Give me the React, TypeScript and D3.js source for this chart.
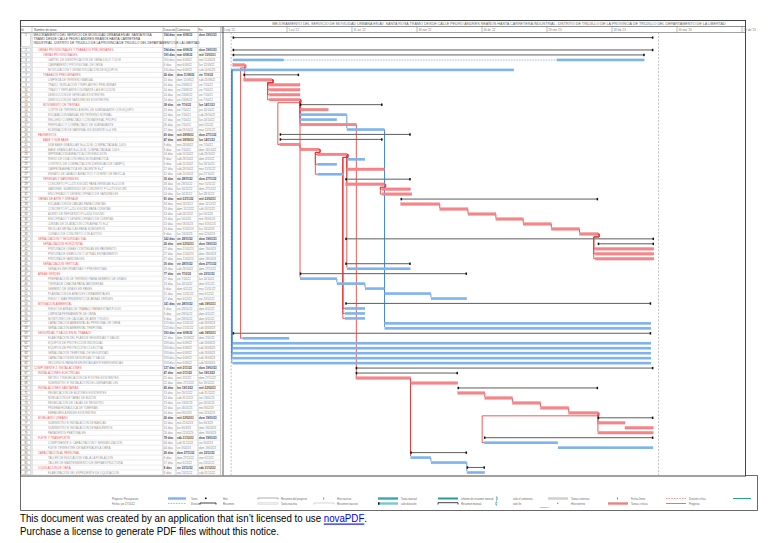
import * as d3 from 'd3'
import { useEffect, useRef } from 'react'

const projectTitle = 'MEJORAMIENTO DEL SERVICIO DE MOVILIDAD URBANA EN AV. SANTA ROSA TRAMO DESDE CALLE PEDRO ANDRES REAÑOS HASTA CARRETERA INDUSTRIAL, DISTRITO DE TRUJILLO DE LA PROVINCIA DE TRUJILLO DEL DEPARTAMENTO DE LA LIBERTAD'
const projectStart = new Date(2022, 8, 6)
const scaleOrigin = new Date(2022, 8, 1)
const tickCount = 9
const tickStep = 30
const markerDays = [-0.8, 196.5]
const columnHeaders = ['Id', 'Nombre de tarea', 'Duración', 'Comienzo', 'Fin']

const taskNames = [
  projectTitle,
  'OBRAS PROVISIONALES Y TRABAJOS PRELIMINARES',
  'OBRAS PROVISIONALES',
  'CARTEL DE IDENTIFICACION DE OBRA 3.60 X 7.20 M',
  'CAMPAMENTO PROVISIONAL DE OBRA',
  'MOVILIZACION Y DESMOVILIZACION DE EQUIPOS',
  'TRABAJOS PRELIMINARES',
  'LIMPIEZA DE TERRENO MANUAL',
  'TRAZO, NIVELACION Y REPLANTEO PRELIMINAR',
  'TRAZO Y REPLANTEO DURANTE LA EJECUCION',
  'DEMOLICION DE VEREDAS EXISTENTES',
  'DEMOLICION DE SARDINELES EXISTENTES',
  'MOVIMIENTO DE TIERRAS',
  'CORTE DE TERRENO A NIVEL DE SUBRASANTE CON EQUIPO',
  'EXCAVACION MANUAL EN TERRENO NORMAL',
  'RELLENO COMPACTADO CON MATERIAL PROPIO',
  'PERFILADO Y COMPACTADO DE SUBRASANTE',
  'ELIMINACION DE MATERIAL EXCEDENTE D=5 KM',
  'PAVIMENTOS',
  'BASE Y SUB BASE',
  'SUB BASE GRANULAR E=0.20 M, COMPACTADA AL 100%',
  'BASE GRANULAR E=0.20 M, COMPACTADA AL 100%',
  'IMPRIMACION ASFALTICA CON EMULSION',
  'RIEGO DE LIGA CON EMULSION ASFALTICA',
  'CONTROL DE COMPACTACION (DENSIDAD DE CAMPO)',
  'CARPETA ASFALTICA EN CALIENTE E=2"',
  'ENSAYO DE LAVADO ASFALTICO Y DISEÑO DE MEZCLA',
  'VEREDAS Y SARDINELES',
  'CONCRETO F\'C=175 KG/CM2 PARA VEREDAS E=0.10 M',
  'SARDINEL SUMERGIDO DE CONCRETO F\'C=175 KG/CM2',
  'ENCOFRADO Y DESENCOFRADO DE SARDINELES',
  'OBRAS DE ARTE Y DRENAJE',
  'EXCAVACION DE ZANJAS PARA CUNETAS',
  'CONCRETO F\'C=210 KG/CM2 PARA CUNETAS',
  'ACERO DE REFUERZO FY=4200 KG/CM2',
  'ENCOFRADO Y DESENCOFRADO DE CUNETAS',
  'JUNTAS DE DILATACION CON ASFALTO E=1"',
  'REJILLAS METALICAS PARA SUMIDEROS',
  'CURADO DE CONCRETO CON ADITIVO',
  'SEÑALIZACION Y SEGURIDAD VIAL',
  'SEÑALIZACION HORIZONTAL',
  'PINTURA DE LINEAS CONTINUAS EN PAVIMENTO',
  'PINTURA DE SIMBOLOS Y LETRAS EN PAVIMENTO',
  'PINTURA DE SARDINELES',
  'SEÑALIZACION VERTICAL',
  'SEÑALES INFORMATIVAS Y PREVENTIVAS',
  'AREAS VERDES',
  'PREPARACION DE TERRENO PARA SEMBRIO DE GRASS',
  'TIERRA DE CHACRA PARA JARDINERAS',
  'SEMBRIO DE GRASS EN PANES',
  'PLANTACION DE ARBOLES ORNAMENTALES',
  'RIEGO Y MANTENIMIENTO DE AREAS VERDES',
  'MITIGACION AMBIENTAL',
  'RIEGO DE AREAS DE TRABAJO PARA EVITAR POLVO',
  'LIMPIEZA PERMANENTE DE OBRA',
  'MONITOREO DE CALIDAD DE AIRE Y RUIDO',
  'CAPACITACION AMBIENTAL AL PERSONAL DE OBRA',
  'SEÑALIZACION AMBIENTAL TEMPORAL',
  'SEGURIDAD Y SALUD EN EL TRABAJO',
  'ELABORACION DEL PLAN DE SEGURIDAD Y SALUD',
  'EQUIPOS DE PROTECCION INDIVIDUAL',
  'EQUIPOS DE PROTECCION COLECTIVA',
  'SEÑALIZACION TEMPORAL DE SEGURIDAD',
  'CAPACITACION EN SEGURIDAD Y SALUD',
  'RECURSOS PARA RESPUESTAS ANTE EMERGENCIAS',
  'COMPONENTE 2: INSTALACIONES',
  'INSTALACIONES ELECTRICAS',
  'RETIRO Y REUBICACION DE POSTES EXISTENTES',
  'SUMINISTRO E INSTALACION DE LUMINARIAS LED',
  'INSTALACIONES SANITARIAS',
  'REUBICACION DE BUZONES EXISTENTES',
  'NIVELACION DE TAPAS DE BUZON',
  'REUBICACION DE CAJAS DE REGISTRO',
  'PRUEBA HIDRAULICA DE TUBERIAS',
  'EMPALMES A REDES EXISTENTES',
  'MOBILIARIO URBANO',
  'SUMINISTRO E INSTALACION DE BANCAS',
  'SUMINISTRO E INSTALACION DE BASUREROS',
  'PARADEROS PEATONALES',
  'FLETE Y TRANSPORTE',
  'COMPONENTE 3: CAPACITACION Y SENSIBILIZACION',
  'FLETE TERRESTRE DE MATERIALES A OBRA',
  'CAPACITACION AL PERSONAL',
  'TALLER DE EDUCACION VIAL A LA POBLACION',
  'TALLER DE MANTENIMIENTO DE INFRAESTRUCTURA',
  'LIQUIDACION DE OBRA',
  'ELABORACION DEL EXPEDIENTE DE LIQUIDACION'
]

const taskLevels = [
  0, 1, 2, 3, 3, 3, 2, 3, 3, 3, 3, 3, 2, 3, 3, 3, 3, 3, 1, 2, 3, 3, 3, 3, 3, 3, 3, 2, 3, 3, 3,
  1, 3, 3, 3, 3, 3, 3, 3, 1, 2, 3, 3, 3, 2, 3, 1, 3, 3, 3, 3, 3, 1, 3, 3, 3, 3, 3, 1, 3, 3, 3,
  3, 3, 3, 0, 1, 3, 3, 1, 3, 3, 3, 3, 3, 1, 3, 3, 3, 1, 3, 3, 1, 3, 3, 1, 3
]

// P proyecto, S resumen, C crítica, N normal
const taskKinds = [
  'P', 'S', 'S', 'N', 'C', 'N', 'S', 'C', 'C', 'C', 'C', 'C', 'S', 'C', 'N', 'N', 'C', 'N', 'S', 'S', 'C', 'C', 'C', 'N', 'N', 'C', 'N', 'S', 'C', 'C', 'C',
  'S', 'C', 'C', 'C', 'C', 'C', 'C', 'C', 'S', 'S', 'C', 'C', 'C', 'S', 'N', 'S', 'N', 'N', 'N', 'N', 'N', 'S', 'N', 'N', 'N', 'N', 'N', 'S', 'N', 'N', 'N',
  'N', 'N', 'N', 'S', 'S', 'C', 'C', 'S', 'C', 'C', 'C', 'C', 'C', 'S', 'C', 'C', 'C', 'S', 'N', 'N', 'S', 'N', 'N', 'S', 'N'
]

const startDays = [
  0, 0, 0, 0, 0, 0, 5, 5, 17, 17, 17, 17, 31, 31, 31, 31, 31, 52.6, 21.7, 21.7, 21.7, 31, 39, 52.6, 39, 52.6, 39, 52, 52, 69, 69,
  77.5, 77.5, 95.5, 108.5, 121.4, 134, 147, 160, 52, 168.5, 167.5, 167.5, 167.5, 52, 52.6, 31, 31, 48, 61, 70, 91.4, 52, 51.7, 51.7, 51.7, 70, 70, 0, 4.5, 0,
  0, 0, 0, 0, 56.8, 56.8, 56.8, 82, 103.8, 103.8, 116.3, 129, 142, 155, 168.5, 168.5, 181, 168.5, 116, 116, 150, 82, 82, 91.4, 108, 108
]

const finishDays = [
  194, 194, 190, 190, 5.5, 129.7, 30.5, 18, 31, 31, 31, 31, 69, 44, 52.6, 48, 57, 70, 82, 69, 31, 39.7, 52.6, 61, 48, 70, 51, 82, 70, 82, 82.6,
  168.5, 95.5, 108.5, 121.4, 134, 147, 160, 168.5, 194.3, 194.3, 194.3, 194.3, 194.3, 82, 82, 108, 48, 61, 70, 91.4, 108, 193, 61, 61, 61, 193, 193, 193, 26, 193,
  193, 193, 193, 193, 194, 103.8, 82, 103.8, 168.5, 116.3, 129, 142, 155, 168.5, 194, 181, 194, 194, 194, 150, 194, 108, 91.4, 108, 116.3, 116.3
]

// tramo interrumpido (división) de la tarea 4
const splitRows = [3]
const splitFrom = [23.5]
const splitTo = [149.5]

const linkFrom = [4, 4, 5, 5, 5, 5, 5, 7, 7, 7, 7, 11, 11, 11, 11, 11, 11, 14, 16, 17, 17, 20, 21, 21, 21, 22, 22, 22, 22, 22, 22, 22, 28, 28,
  32, 33, 34, 35, 36, 37, 38, 38, 38, 47, 48, 49, 50, 67, 67, 67, 70, 71, 72, 73, 74, 74, 74, 83, 84]
const linkTo = [7, 59, 60, 61, 62, 63, 64, 8, 9, 10, 11, 13, 14, 15, 16, 20, 47, 17, 67, 56, 57, 21, 22, 24, 26, 23, 25, 28, 45, 53, 54, 55, 29, 30,
  33, 34, 35, 36, 37, 38, 41, 42, 43, 48, 49, 50, 51, 68, 83, 82, 71, 72, 73, 74, 76, 78, 80, 84, 86]
const linkTypes = linkFrom.map(f => (f === 5 ? 'SS' : 'FS'))

const legendCol1 = ['Proyecto: Presupuesto', 'Fecha: jue 17/11/22']
const legendLabels = [
  ['Tarea', 'División'],
  ['Hito', 'Resumen'],
  ['Resumen del proyecto', 'Tarea inactiva'],
  ['Hito inactivo', 'Resumen inactivo'],
  ['Tarea manual', 'solo duración'],
  ['Informe de resumen manual', 'Resumen manual'],
  ['solo el comienzo', 'solo fin'],
  ['Tareas externas', 'Hito externo'],
  ['Fecha límite', 'Tareas críticas'],
  ['División crítica', 'Progreso'],
  ['', '']
]
const legendSymbols = ['task', 'milestone', 'projsum', 'inactive', 'manual', 'teal', 'startfinish', 'external', 'deadline', 'critsplit', 'manualprog']
const legendX = [168, 200, 258, 314, 378, 438, 490, 548, 608, 666, 733]

const dayAbbr = ['dom', 'lun', 'mar', 'mié', 'jue', 'vie', 'sáb']
const monthAbbr = ['ene', 'feb', 'mar', 'abr', 'may', 'jun', 'jul', 'ago', 'sep', 'oct', 'nov', 'dic']

export default function App() {
  const svgRef = useRef<SVGSVGElement>(null)

  useEffect(() => {
    makeChart(svgRef)
  }, [])

  function makeChart(svgRef: React.RefObject<SVGSVGElement>) {
    const width = 768
    const height = 543
    const svg = d3.select(svgRef.current).attr('width', width).attr('height', height)
    svg.selectAll('*').remove()

    const left = 20
    const right = 745
    const top = 20
    const titleBottom = 26.5
    const headBottom = 32.5
    const row1Bottom = 47.5
    const tableBottom = 475.5
    const colX = [20, 32, 163, 176, 198, 220.5]
    const ganttLeft = 223
    const font = 'Liberation Sans, Arial, sans-serif'

    const dayDate = (d: number) => new Date(projectStart.getTime() + d * 86400000)
    const xScale = d3.scaleTime()
      .domain([scaleOrigin, d3.timeDay.offset(scaleOrigin, tickStep * 8)])
      .range([222, 222 + 65 * 8])
    const xDay = (d: number) => xScale(dayDate(d))

    const nRows = taskNames.length
    const yScale = d3.scaleLinear().domain([1, nRows - 1]).range([50, 472.5])
    const rowY = (k: number) => (k === 0 ? 37.6 : yScale(k))
    const rowH = yScale(2) - yScale(1)

    const fmtDate = (d: Date) => `${dayAbbr[d.getDay()]} ${d.getDate()}/${String(d.getMonth() + 1).padStart(2, '0')}/${String(d.getFullYear()).slice(2)}`

    svg.append('rect').attr('width', width).attr('height', height).attr('fill', '#fff')

    // marco general
    const frame = svg.append('g').attr('stroke', '#444').attr('fill', 'none')
    frame.append('rect').attr('x', left + 0.5).attr('y', top + 0.5).attr('width', right - left).attr('height', tableBottom - top).attr('stroke-width', 1)
    frame.append('path').attr('d', `M${left + 0.5},${tableBottom} V510.5 H757.5 V${tableBottom} H${right}`).attr('stroke-width', 0.8)
    frame.append('line').attr('x1', left).attr('x2', right).attr('y1', titleBottom).attr('y2', titleBottom).attr('stroke-width', 0.6)
    frame.append('line').attr('x1', left).attr('x2', right).attr('y1', headBottom).attr('y2', headBottom).attr('stroke-width', 0.5)

    svg.append('text').attr('x', 499).attr('y', 25).attr('text-anchor', 'middle')
      .attr('font-family', font).attr('font-size', 3.7).attr('fill', '#666').text(projectTitle)

    // columnas
    const cols = svg.append('g').attr('stroke', '#999').attr('stroke-width', 0.5)
    colX.slice(1).forEach(x => {
      cols.append('line').attr('x1', x).attr('x2', x).attr('y1', titleBottom).attr('y2', tableBottom)
    })
    cols.append('line').attr('x1', ganttLeft).attr('x2', ganttLeft).attr('y1', titleBottom).attr('y2', tableBottom).attr('stroke', '#333').attr('stroke-width', 0.8)

    const headerX = [colX[0] + 1, colX[1] + 2, colX[2] + 0.5, colX[3] + 0.5, colX[4] + 0.5]
    columnHeaders.forEach((h, i) => {
      svg.append('text').attr('x', headerX[i]).attr('y', 30.5).attr('font-family', font)
        .attr('font-size', 3).attr('fill', '#555').text(h)
    })

    // escala de tiempo
    const ticks = d3.range(tickCount).map(i => d3.timeDay.offset(scaleOrigin, i * tickStep))
    ticks.forEach(t => {
      const x = xScale(t)
      svg.append('line').attr('x1', x).attr('x2', x).attr('y1', titleBottom).attr('y2', headBottom)
        .attr('stroke', '#777').attr('stroke-width', 0.5)
      svg.append('text').attr('x', x + 1.5).attr('y', 30.5).attr('font-family', font).attr('font-size', 2.8)
        .attr('fill', '#777').text(`${t.getDate()} ${monthAbbr[t.getMonth()]} '${String(t.getFullYear()).slice(2)}`)
    })

    // líneas de fila
    const grid = svg.append('g').attr('stroke', '#cfcfcf').attr('stroke-width', 0.4)
    grid.append('line').attr('x1', left).attr('x2', ganttLeft).attr('y1', row1Bottom).attr('y2', row1Bottom)
    for (let k = 1; k < nRows; k++) {
      const yb = rowY(k) + rowH / 2
      grid.append('line').attr('x1', left).attr('x2', ganttLeft).attr('y1', yb).attr('y2', yb)
    }

    // textos de la tabla
    const txt = svg.append('g').attr('font-family', font)
    for (let k = 0; k < nRows; k++) {
      const kind = taskKinds[k]
      const isSum = kind === 'S' || kind === 'P'
      const y = k === 0 ? 36 : rowY(k) + 1.1
      const s = startDays[k]
      const f = finishDays[k]
      txt.append('rect').attr('x', 21.5).attr('y', (k === 0 ? 33 : rowY(k) - rowH / 2) + 0.6)
        .attr('width', 9).attr('height', (k === 0 ? 14 : rowH) - 1.2).attr('fill', 'none').attr('stroke', '#999').attr('stroke-width', 0.35)
      txt.append('text').attr('x', 26).attr('y', y).attr('text-anchor', 'middle').attr('font-size', 2.8)
        .attr('fill', '#666').text(k + 1)
      const nameColor = kind === 'P' ? '#444' : kind === 'S' ? '#f0605e' : '#9a9a9a'
      const nx = colX[1] + 2 + [0, 4, 9, 14][taskLevels[k]]
      if (k === 0) {
        const words = taskNames[k].split(' ')
        const lines: string[] = ['', '', '']
        let li = 0
        words.forEach(w => {
          if ((lines[li] + ' ' + w).length > 64 && li < 2) li++
          lines[li] = lines[li] ? lines[li] + ' ' + w : w
        })
        lines.forEach((l, i) => {
          txt.append('text').attr('x', colX[1] + 1.5).attr('y', 36 + i * 4).attr('font-size', 3.2)
            .attr('fill', nameColor).text(l)
        })
      } else {
        txt.append('text').attr('x', nx).attr('y', y).attr('font-size', 2.9)
          .attr('fill', nameColor).text(taskNames[k])
      }
      const numColor = isSum ? '#444' : '#888'
      const weight = isSum ? 'bold' : 'normal'
      txt.append('text').attr('x', colX[2] + 0.8).attr('y', y).attr('font-size', 2.8)
        .attr('fill', numColor).attr('font-weight', weight).text(`${Math.round(f - s)} días`)
      txt.append('text').attr('x', colX[3] + 1).attr('y', y).attr('font-size', 2.8)
        .attr('fill', numColor).attr('font-weight', weight).text(fmtDate(dayDate(Math.round(s))))
      txt.append('text').attr('x', colX[4] + 1).attr('y', y).attr('font-size', 2.8)
        .attr('fill', numColor).attr('font-weight', weight).text(fmtDate(dayDate(Math.round(f))))
    }

    // líneas de fecha
    markerDays.forEach(d => {
      svg.append('line').attr('x1', xDay(d)).attr('x2', xDay(d)).attr('y1', headBottom).attr('y2', tableBottom)
        .attr('stroke', '#999').attr('stroke-width', 0.6).attr('stroke-dasharray', '2,1.5')
    })

    // vínculos
    const links = svg.append('g').attr('fill', 'none').attr('stroke-width', 0.8)
    linkFrom.forEach((a, i) => {
      const b = linkTo[i]
      const col = taskKinds[a] === 'C' ? '#e8302f' : '#3d86dd'
      const ya = rowY(a)
      const yb = rowY(b)
      const xs = xDay(startDays[b])
      let path = ''
      if (linkTypes[i] === 'SS') {
        const xa = xDay(startDays[a]) - 1
        path = `M${xDay(startDays[a])},${ya} H${xa} V${yb} H${xs}`
      } else {
        const xe = xDay(finishDays[a])
        if (xs >= xe - 1.5) {
          path = `M${xe},${ya} H${Math.max(xe, xs)} V${yb - 1.3}`
        } else {
          path = `M${xe},${ya} h1.2 V${ya + rowH * 0.6} H${xs - 2} V${yb} H${xs}`
        }
      }
      links.append('path').attr('d', path).attr('stroke', col)
    })

    // barras
    const bars = svg.append('g')
    for (let k = 0; k < nRows; k++) {
      const kind = taskKinds[k]
      const y = rowY(k)
      const x0 = xDay(startDays[k])
      const x1 = xDay(finishDays[k])
      if (kind === 'S' || kind === 'P') {
        bars.append('rect').attr('x', x0).attr('y', y - 0.6).attr('width', x1 - x0).attr('height', 1.1).attr('fill', '#6d6d6d')
        bars.append('rect').attr('x', x0 - 0.2).attr('y', y - 1.2).attr('width', 1.5).attr('height', 2.4).attr('fill', '#111')
        bars.append('rect').attr('x', x1 - 1.3).attr('y', y - 1.2).attr('width', 1.5).attr('height', 2.4).attr('fill', '#111')
      } else if (kind === 'C') {
        bars.append('rect').attr('x', x0).attr('y', y - 1.3).attr('width', x1 - x0).attr('height', 2.6)
          .attr('fill', '#f4868a').attr('stroke', '#f06868').attr('stroke-width', 0.3)
      } else {
        const si = splitRows.indexOf(k)
        if (si >= 0) {
          const g0 = xDay(splitFrom[si])
          const g1 = xDay(splitTo[si])
          bars.append('rect').attr('x', x0).attr('y', y - 1.3).attr('width', g0 - x0).attr('height', 2.6).attr('fill', '#7eb3ec')
          bars.append('line').attr('x1', g0).attr('x2', g1).attr('y1', y).attr('y2', y)
            .attr('stroke', '#7eb3ec').attr('stroke-width', 1.1).attr('stroke-dasharray', '0.8,0.8')
          bars.append('rect').attr('x', g1).attr('y', y - 1.3).attr('width', x1 - g1).attr('height', 2.6).attr('fill', '#7eb3ec')
        } else {
          bars.append('rect').attr('x', x0).attr('y', y - 1.3).attr('width', x1 - x0).attr('height', 2.6).attr('fill', '#7eb3ec')
        }
      }
    }

    // leyenda
    const leg = svg.append('g').attr('font-family', font).attr('font-size', 2.6).attr('fill', '#666')
    const ly = [498.5, 503.5]
    legendCol1.forEach((t, i) => leg.append('text').attr('x', 112).attr('y', ly[i] + 1).text(t))
    legendSymbols.forEach((sym, i) => {
      const sx = legendX[i]
      const lx = sx + 23
      legendLabels[i].forEach((t, j) => { if (t) leg.append('text').attr('x', lx).attr('y', ly[j] + 1).text(t) })
      const g = leg.append('g')
      const y0 = ly[0]
      const y1 = ly[1]
      if (sym === 'task') {
        g.append('rect').attr('x', sx).attr('y', y0 - 1.2).attr('width', 18).attr('height', 2.4).attr('fill', '#7eb3ec')
        g.append('line').attr('x1', sx).attr('x2', sx + 18).attr('y1', y1).attr('y2', y1).attr('stroke', '#7eb3ec').attr('stroke-dasharray', '0.8,0.8')
      } else if (sym === 'milestone') {
        g.append('rect').attr('x', sx + 5).attr('y', y0 - 1).attr('width', 1.6).attr('height', 1.6).attr('fill', '#111')
        g.append('path').attr('d', `M${sx},${y1 + 1} V${y1 - 0.5} H${sx + 16} V${y1 + 1}`).attr('fill', 'none').attr('stroke', '#111').attr('stroke-width', 0.8)
      } else if (sym === 'projsum') {
        g.append('path').attr('d', `M${sx},${y0 + 1} V${y0 - 0.5} H${sx + 20} V${y0 + 1}`).attr('fill', 'none').attr('stroke', '#777').attr('stroke-width', 0.6)
        g.append('rect').attr('x', sx).attr('y', y1 - 0.6).attr('width', 20).attr('height', 1.2).attr('fill', 'none').attr('stroke', '#aaa').attr('stroke-width', 0.4)
      } else if (sym === 'inactive') {
        g.append('rect').attr('x', sx + 9).attr('y', y0 - 1).attr('width', 1.2).attr('height', 2).attr('fill', '#999')
        g.append('path').attr('d', `M${sx},${y1 + 1} V${y1 - 0.5} H${sx + 20} V${y1 + 1}`).attr('fill', 'none').attr('stroke', '#aaa').attr('stroke-width', 0.5)
      } else if (sym === 'manual') {
        g.append('rect').attr('x', sx).attr('y', y0 - 1.2).attr('width', 20).attr('height', 2.4).attr('fill', '#38a8ad')
        g.append('rect').attr('x', sx).attr('y', y1 - 1.2).attr('width', 20).attr('height', 2.4).attr('fill', '#7cc8cb')
        g.append('rect').attr('x', sx).attr('y', y1 - 1.2).attr('width', 1.5).attr('height', 2.4).attr('fill', '#111')
      } else if (sym === 'teal') {
        g.append('rect').attr('x', sx).attr('y', y0 - 1).attr('width', 20).attr('height', 2).attr('fill', '#2c9b9f')
        g.append('path').attr('d', `M${sx},${y1 + 1} V${y1 - 0.8} H${sx + 20} V${y1 + 1}`).attr('fill', 'none').attr('stroke', '#111').attr('stroke-width', 0.8)
      } else if (sym === 'startfinish') {
        g.append('path').attr('d', `M${sx + 6},${y0 - 1.5} h1 v3 h-1`).attr('fill', 'none').attr('stroke', '#2c9b9f').attr('stroke-width', 0.8)
        g.append('path').attr('d', `M${sx + 7},${y1 - 1.5} h-1 v3 h1`).attr('fill', 'none').attr('stroke', '#2c9b9f').attr('stroke-width', 0.8)
      } else if (sym === 'external') {
        g.append('rect').attr('x', sx).attr('y', y0 - 1.2).attr('width', 20).attr('height', 2.4).attr('fill', '#cfcfcf')
        g.append('rect').attr('x', sx + 9).attr('y', y1 - 0.8).attr('width', 1.4).attr('height', 1.4).attr('fill', '#999')
      } else if (sym === 'deadline') {
        g.append('path').attr('d', `M${sx + 9},${y0 + 1.5} v-3 l1.2,1.5 z`).attr('fill', '#3aa53a')
        g.append('rect').attr('x', sx).attr('y', y1 - 1.2).attr('width', 20).attr('height', 2.4).attr('fill', '#f08080')
      } else if (sym === 'critsplit') {
        g.append('line').attr('x1', sx).attr('x2', sx + 20).attr('y1', y0).attr('y2', y0).attr('stroke', '#f08080').attr('stroke-width', 1.2).attr('stroke-dasharray', '0.8,0.8')
        g.append('line').attr('x1', sx).attr('x2', sx + 20).attr('y1', y1).attr('y2', y1).attr('stroke', '#3d86dd').attr('stroke-width', 0.8)
      } else {
        g.append('line').attr('x1', sx).attr('x2', sx + 18).attr('y1', y0).attr('y2', y0).attr('stroke', '#2c9b9f').attr('stroke-width', 1)
      }
    })
    leg.append('text').attr('x', 540).attr('y', 507.5).attr('font-size', 2.4).text('Página 1')

    // aviso novaPDF
    const note = svg.append('g').attr('transform', 'translate(20,0) scale(0.885,1)')
      .attr('font-family', 'Liberation Sans, Arial, sans-serif').attr('font-size', 11).attr('fill', '#000')
    const t1 = note.append('text').attr('x', 0).attr('y', 522.5)
    t1.append('tspan').text('This document was created by an application that isn\u2019t licensed to use ')
    t1.append('tspan').attr('fill', '#0000ee').attr('text-decoration', 'underline').text('novaPDF')
    t1.append('tspan').text('.')
    note.append('text').attr('x', 0).attr('y', 535.5).text('Purchase a license to generate PDF files without this notice.')
  }

  return (
    <svg ref={svgRef} style={{ position: 'absolute', left: 0, top: 0 }}></svg>
  )
}
